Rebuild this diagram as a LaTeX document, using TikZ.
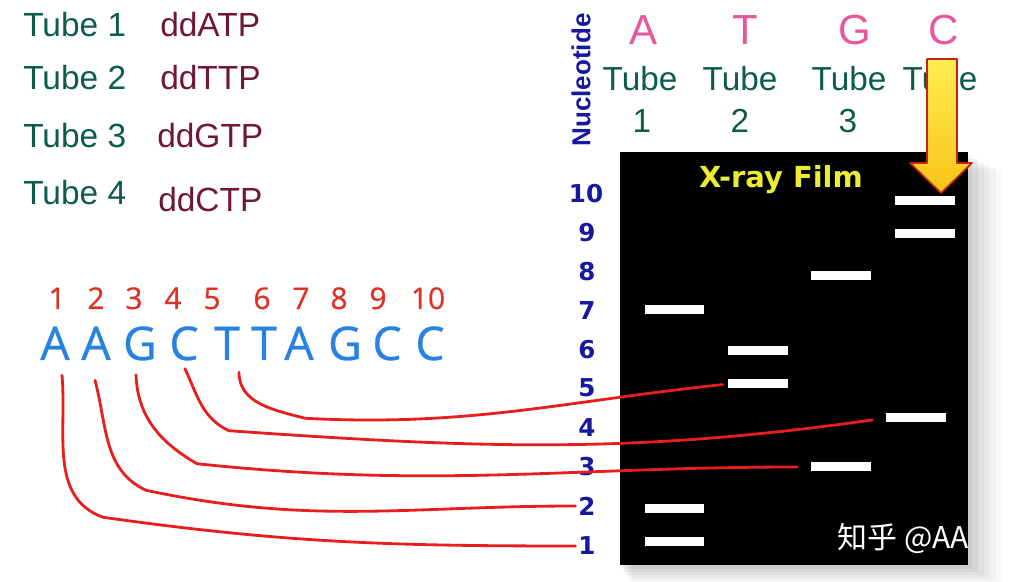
\documentclass[tikz,border=0pt]{standalone}
\usepackage{fontspec}
\setmainfont{Liberation Sans}
\newfontfamily\verdfont{DejaVu Sans}
\newfontfamily\seqfont{Open Sans}[FakeBold=0.6]
\newfontfamily\cjkfont{Noto Sans CJK SC}
\definecolor{tubegreen}{RGB}{12,92,76}
\definecolor{ddred}{RGB}{112,22,56}
\definecolor{basepink}{RGB}{232,86,156}
\definecolor{lanenavy}{RGB}{22,24,160}
\definecolor{seqblue}{RGB}{40,130,226}
\definecolor{seqred}{RGB}{222,48,36}
\definecolor{linered}{RGB}{232,30,30}
\definecolor{filmyellow}{RGB}{236,236,48}
\definecolor{arrowrim}{RGB}{190,36,24}
\begin{document}
\begin{tikzpicture}
[x=0.025cm,y=-0.025cm,
tube text/.style={inner sep=0pt,anchor=base west,text=tubegreen,font=\fontsize{23.8}{28}\selectfont},
dd text/.style={tube text,text=ddred},
base letter/.style={inner sep=0pt,anchor=base,text=basepink,font=\fontsize{29.9}{34}\selectfont},
lane text/.style={inner sep=0pt,anchor=base,text=tubegreen,font=\fontsize{23.7}{28}\selectfont},
length label/.style={inner sep=0pt,text=lanenavy,font=\verdfont\bfseries\fontsize{17.5}{20}\selectfont},
band/.style={fill=white,inner sep=0pt,minimum width=1.475cm,minimum height=0.225cm},
seq letter/.style={inner sep=0pt,anchor=base,text=seqblue,font=\seqfont\fontsize{33}{38}\selectfont},
seq number/.style={inner sep=0pt,anchor=base,text=seqred,font=\seqfont\fontsize{21.3}{25}\selectfont},
read line/.style={draw=linered,line width=2pt,line cap=round,line join=round}]
\useasboundingbox (0,0) rectangle (1035,582);
% tubes and terminators
\node[tube text] (t1) at (23,37) {Tube 1};
\node[tube text] (t2) at (23,90) {Tube 2};
\node[tube text] (t3) at (23,148) {Tube 3};
\node[tube text] (t4) at (23,205) {Tube 4};
\node[dd text] (d1) at (160,37) {ddATP};
\node[dd text] (d2) at (160,90) {ddTTP};
\node[dd text] (d3) at (157,148) {ddGTP};
\node[dd text] (d4) at (158,212) {ddCTP};
% lane headings
\node[inner sep=0pt,rotate=90,text=lanenavy,font=\bfseries\fontsize{18.5}{22}\selectfont] (nuc) at (581,80) {Nucleotide};
\node[base letter] (hA) at (644,45) {A};
\node[base letter] (hT) at (745,45) {T};
\node[base letter] (hG) at (855,45) {G};
\node[base letter] (hC) at (944,45) {C};
\node[lane text] (l1) at (640,91) {Tube};
\node[lane text] (l2) at (740,91) {Tube};
\node[lane text] (l3) at (849,91) {Tube};
\node[lane text] (l4) at (940,91) {Tube};
\node[lane text] (k1) at (642,133) {1};
\node[lane text] (k2) at (740,133) {2};
\node[lane text] (k3) at (848,133) {3};
\node[lane text] (k4) at (940,133) {4};
% film with its shadow
\fill[black,opacity=0.045] (622,156) rectangle (972,569);
\fill[black,opacity=0.045] (624,159) rectangle (978,572);
\fill[black,opacity=0.04] (626,162) rectangle (984,575);
\fill[black,opacity=0.035] (628,165) rectangle (990,578);
\fill[black,opacity=0.03] (630,168) rectangle (996,581);
\fill[black,opacity=0.025] (632,171) rectangle (1002,584);
\node[fill=black,inner sep=0pt,minimum width=8.7cm,minimum height=10.325cm] (film) at (794,358.5) {};
\node[inner sep=0pt,text=filmyellow,font=\verdfont\bfseries\fontsize{20.6}{24}\selectfont] (title) at (781,180) {X-ray Film};
\node[band] (b1) at (674.5,542) {};
\node[band] (b2) at (674.5,509) {};
\node[band] (b3) at (841,467) {};
\node[band] (b4) at (916,418) {};
\node[band] (b5) at (758,384) {};
\node[band] (b6) at (758,351) {};
\node[band] (b7) at (674.5,310) {};
\node[band] (b8) at (841,276) {};
\node[band] (b9) at (925,234) {};
\node[band] (b10) at (925,201) {};
\node[inner sep=0pt,text=white,font=\cjkfont\fontsize{21.3}{25}\selectfont] (mark) at (903,538) {知乎 @AA};
% fragment lengths
\node[length label] (n1) at (587,546) {1};
\node[length label] (n2) at (587,506) {2};
\node[length label] (n3) at (587,467) {3};
\node[length label] (n4) at (587,428) {4};
\node[length label] (n5) at (587,388) {5};
\node[length label] (n6) at (587,350) {6};
\node[length label] (n7) at (587,311) {7};
\node[length label] (n8) at (587,272) {8};
\node[length label] (n9) at (587,233) {9};
\node[length label] (n10) at (586,194) {10};
% sequence read off the film
\node[seq number] (p1) at (57,309) {1};
\node[seq number] (p2) at (96,309) {2};
\node[seq number] (p3) at (134,309) {3};
\node[seq number] (p4) at (173,309) {4};
\node[seq number] (p5) at (212,309) {5};
\node[seq number] (p6) at (262,309) {6};
\node[seq number] (p7) at (301,309) {7};
\node[seq number] (p8) at (339,309) {8};
\node[seq number] (p9) at (378,309) {9};
\node[seq number] (p10) at (428,309) {10};
\node[seq letter] (s1) at (55,360) {A};
\node[seq letter] (s2) at (96,360) {A};
\node[seq letter] (s3) at (140,360) {G};
\node[seq letter] (s4) at (184,360) {C};
\node[seq letter] (s5) at (227,360) {T};
\node[seq letter] (s6) at (264,360) {T};
\node[seq letter] (s7) at (299,360) {A};
\node[seq letter] (s8) at (345,360) {G};
\node[seq letter] (s9) at (387,360) {C};
\node[seq letter] (s10) at (430,360) {C};
\draw[read line,shorten >=2pt] (s1.south) ++(7,15) to[out=-85,in=160] ++(41,142) to[out=-8,in=180] (n1.west);
\draw[read line,shorten >=2pt] (s2.south) ++(-1,20) to[out=-75,in=155] ++(51,110) to[out=-12,in=180] (n2.west);
\draw[read line,shorten >=10pt] (s3.south) ++(-4,14) to[out=-88,in=150] ++(61,89) to[out=-6,in=180] (b3.west);
\draw[read line,shorten >=10pt] (s4.south) ++(1,8) to[out=-65,in=155] ++(44,62) to[out=-4,in=188] (b4.west);
\draw[read line,shorten >=4pt] (s5.south) ++(12,12) to[out=-90,in=165] ++(66,46) to[out=-3,in=186] (b5.west);
% arrow over lane C
\draw[arrowrim,line width=1.2pt,line join=round,top color={rgb,255:red,255;green,236;blue,80},bottom color={rgb,255:red,248;green,196;blue,24}]
(927,59) -- (957,59) -- (957,163) -- (972,163) -- (941,193) -- (910,163) -- (927,163) -- cycle;
\end{tikzpicture}
\end{document}
